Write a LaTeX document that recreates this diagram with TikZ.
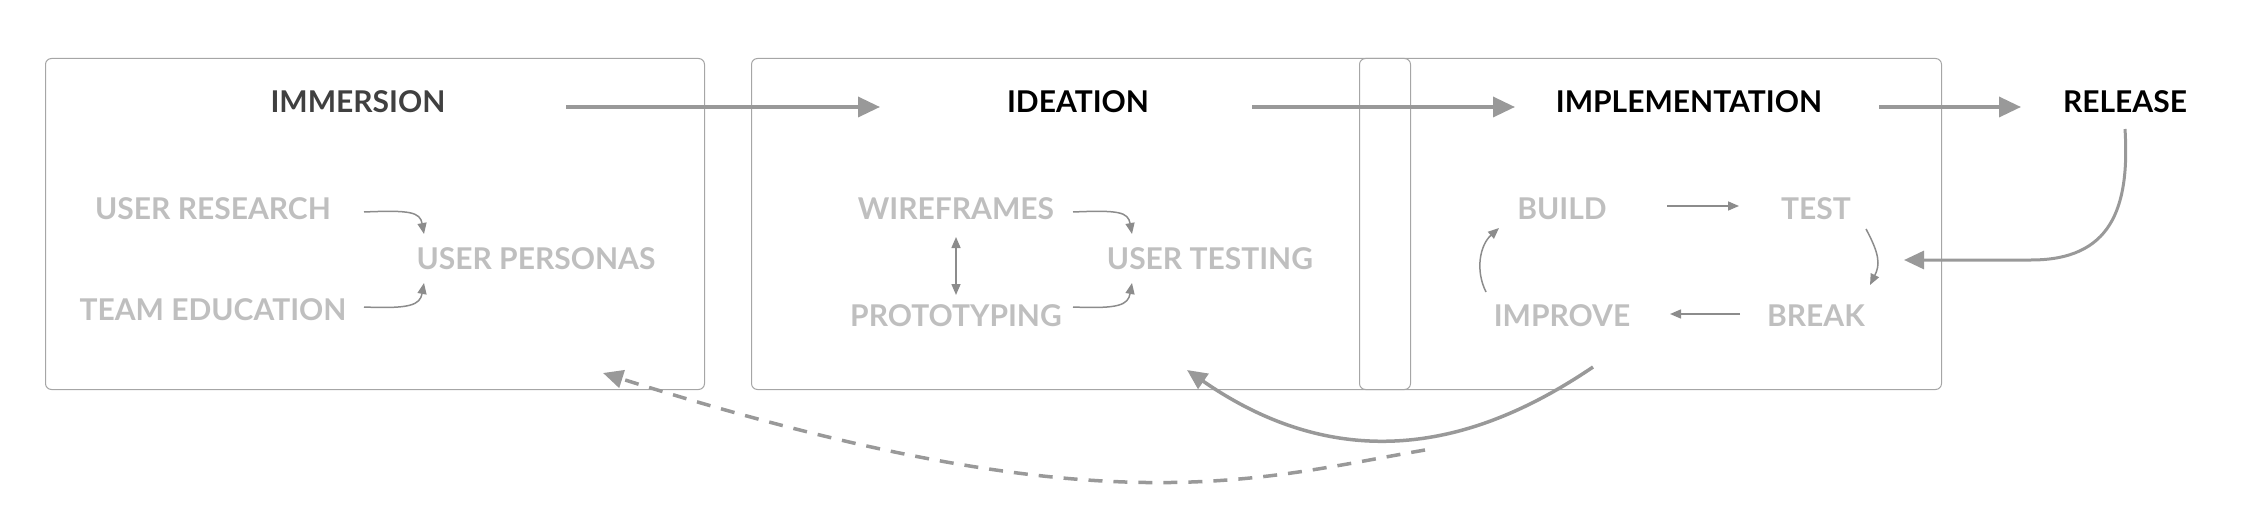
\documentclass[tikz,border=0pt]{standalone}
\usepackage{fontspec}
\setmainfont{Lato}
\usetikzlibrary{arrows.meta}
\begin{document}
\begin{tikzpicture}[x=1pt,y=-1pt,
  box/.style={draw=black!35,rounded corners=6pt,line width=1pt},
  head/.style={font=\fontsize{30}{30}\selectfont\bfseries},
  sub/.style={text=black!25,font=\fontsize{30}{30}\selectfont\bfseries},
  big/.style={draw=black!40,line width=3.5pt,-{Triangle[length=22pt,width=20pt]}},
  mid/.style={draw=black!40,line width=3pt,-{Triangle[length=20pt,width=18pt]}},
  small/.style={draw=black!45,line width=1.5pt,-{Triangle[length=11pt,width=9pt]}}]
\useasboundingbox (0,0) rectangle (2265,516);
\node[box,minimum width=659pt,minimum height=331pt,anchor=north west] (b1) at (45,58) {};
\node[box,minimum width=659pt,minimum height=331pt,anchor=north west] (b2) at (751,58) {};
\node[box,minimum width=582pt,minimum height=331pt,anchor=north west] (b3) at (1359,58) {};
\node[head,text=black!75] (imm) at (358,102) {IMMERSION};
\node[head] (ide) at (1078,102) {IDEATION};
\node[head] (imp) at (1689,102) {IMPLEMENTATION};
\node[head] (rel) at (2125,102) {RELEASE};
\coordinate (a1) at (566,107); \coordinate (a1e) at (880,107);
\coordinate (a2) at (1252,107); \coordinate (a2e) at (1515,107);
\coordinate (a3) at (1879,107); \coordinate (a3e) at (2021,107);
\draw[big] (a1) -- (a1e);
\draw[big] (a2) -- (a2e);
\draw[big] (a3) -- (a3e);
\coordinate (r1) at (2125,129); \coordinate (rt) at (1904,260);
\draw[mid] (r1) .. controls (2130,210) and (2110,260) .. (2031,260) -- (rt);
\node[sub] (ur) at (213,209) {USER RESEARCH};
\node[sub] (up) at (536,259) {USER PERSONAS};
\node[sub] (te) at (213,310) {TEAM EDUCATION};
\coordinate (s1) at (364,212); \coordinate (e1) at (424,234);
\coordinate (s2) at (364,307); \coordinate (e2) at (424,283);
\draw[small] (s1) .. controls (410,210) and (420,212) .. (e1);
\draw[small] (s2) .. controls (410,309) and (420,305) .. (e2);
\node[sub] (wf) at (956,209) {WIREFRAMES};
\node[sub] (ut) at (1210,259) {USER TESTING};
\node[sub] (pr) at (956,316) {PROTOTYPING};
\coordinate (d1) at (956,237); \coordinate (d2) at (956,295);
\draw[small,{Triangle[length=11pt,width=9pt]}-{Triangle[length=11pt,width=9pt]}] (d1) -- (d2);
\coordinate (s3) at (1073,212); \coordinate (e3) at (1132,234);
\coordinate (s4) at (1073,307); \coordinate (e4) at (1132,283);
\draw[small] (s3) .. controls (1119,210) and (1128,212) .. (e3);
\draw[small] (s4) .. controls (1119,309) and (1128,305) .. (e4);
\node[sub] (bu) at (1562,209) {BUILD};
\node[sub] (ts) at (1816,209) {TEST};
\node[sub] (ip) at (1562,316) {IMPROVE};
\node[sub] (br) at (1816,316) {BREAK};
\coordinate (c1) at (1667,206); \coordinate (c1e) at (1739,206);
\coordinate (c2) at (1866,229); \coordinate (c2e) at (1870,285);
\coordinate (c3) at (1740,314); \coordinate (c3e) at (1670,314);
\coordinate (c4) at (1486,292); \coordinate (c4e) at (1499,228);
\draw[small] (c1) -- (c1e);
\draw[small] (c2) .. controls (1880,255) and (1880,265) .. (c2e);
\draw[small] (c3) -- (c3e);
\draw[small] (c4) .. controls (1475,270) and (1480,245) .. (c4e);
\coordinate (l1) at (1593,367); \coordinate (l1e) at (1187,370);
\draw[mid,line width=3.5pt] (l1) .. controls (1500,430) and (1360,490) .. (l1e);
\coordinate (l2) at (1425,450); \coordinate (l2e) at (603,373);
\draw[mid,line width=3.5pt,dash pattern=on 14pt off 11pt] (l2) .. controls (1250,480) and (1100,530) .. (l2e);
\end{tikzpicture}
\end{document}
